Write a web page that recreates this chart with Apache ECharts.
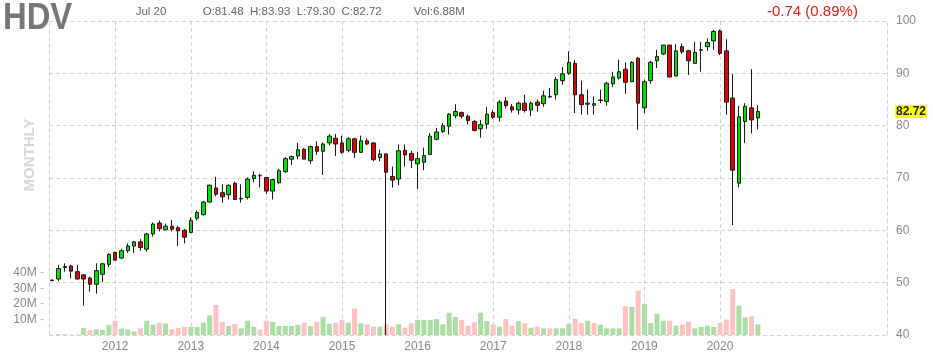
<!DOCTYPE html>
<html><head><meta charset="utf-8">
<script src="https://cdn.jsdelivr.net/npm/echarts@6/dist/echarts.min.js"></script>
<style>html,body{margin:0;padding:0;background:#fff}#c{width:933px;height:354px}</style>
</head><body><div id="c"></div>
<script>
// Monthly categories (Mar 2011 .. Jul 2020)
const months = [
 '2011-03','2011-04','2011-05','2011-06','2011-07','2011-08','2011-09','2011-10','2011-11','2011-12',
 '2012-01','2012-02','2012-03','2012-04','2012-05','2012-06','2012-07','2012-08','2012-09','2012-10','2012-11','2012-12',
 '2013-01','2013-02','2013-03','2013-04','2013-05','2013-06','2013-07','2013-08','2013-09','2013-10','2013-11','2013-12',
 '2014-01','2014-02','2014-03','2014-04','2014-05','2014-06','2014-07','2014-08','2014-09','2014-10','2014-11','2014-12',
 '2015-01','2015-02','2015-03','2015-04','2015-05','2015-06','2015-07','2015-08','2015-09','2015-10','2015-11','2015-12',
 '2016-01','2016-02','2016-03','2016-04','2016-05','2016-06','2016-07','2016-08','2016-09','2016-10','2016-11','2016-12',
 '2017-01','2017-02','2017-03','2017-04','2017-05','2017-06','2017-07','2017-08','2017-09','2017-10','2017-11','2017-12',
 '2018-01','2018-02','2018-03','2018-04','2018-05','2018-06','2018-07','2018-08','2018-09','2018-10','2018-11','2018-12',
 '2019-01','2019-02','2019-03','2019-04','2019-05','2019-06','2019-07','2019-08','2019-09','2019-10','2019-11','2019-12',
 '2020-01','2020-02','2020-03','2020-04','2020-05','2020-06','2020-07'
];
const opens = [
 50.4,50.7,52.9,53.2,52.1,51.5,50.9,49.7,51.6,53.5,
 55.8,54.7,56.1,57.0,57.8,56.4,59.3,61.4,60.1,60.8,60.5,60.0,
 59.6,62.3,63.0,65.4,68.1,67.2,66.8,69.0,66.0,66.3,69.9,70.5,
 70.1,67.5,69.1,71.2,73.6,74.2,75.5,73.3,76.0,75.1,76.7,77.6,
 76.7,75.3,77.5,74.9,77.1,76.7,73.9,74.6,70.3,69.8,75.3,74.7,
 72.7,73.0,74.5,77.4,78.9,79.9,81.9,82.5,81.8,80.8,79.4,80.3,
 82.5,81.6,84.7,83.6,83.0,84.3,83.0,84.5,84.2,85.5,85.9,88.6,
 90.0,91.9,85.9,84.1,83.9,84.8,84.6,88.0,89.1,90.8,88.4,92.9,
 83.4,88.6,92.4,93.7,95.4,89.5,95.1,94.3,91.9,94.4,95.1,96.2,
 98.1,94.3,85.3,69.0,80.8,83.4,81.48
];
const closes = [
 50.5,52.7,53.1,52.2,50.7,50.7,49.7,52.3,53.6,55.4,
 54.3,56.1,57.0,57.8,56.7,59.3,61.2,60.3,60.8,60.2,59.9,58.7,
 61.9,63.4,65.4,68.6,66.9,66.4,68.6,65.9,66.1,69.8,70.5,70.4,
 67.5,69.7,71.4,73.7,74.1,75.4,73.6,76.0,75.1,76.5,78.0,76.5,
 74.9,77.5,74.9,77.1,76.5,73.5,74.6,71.1,69.6,75.2,74.4,73.4,
 73.7,74.3,78.0,78.8,80.0,82.2,82.7,81.8,81.0,79.1,80.2,82.2,
 81.6,84.5,83.8,83.0,84.3,82.9,84.3,83.9,85.7,85.6,88.8,89.9,
 92.1,85.9,84.0,84.3,84.2,84.9,88.1,89.3,90.3,88.3,92.1,84.3,
 88.4,92.1,93.2,95.4,89.3,94.3,94.1,92.4,94.0,94.5,95.9,98.0,
 93.8,84.5,71.5,81.7,83.7,81.1,82.72
];
const lows = [
 50.3,50.3,52.1,50.8,50.6,45.6,48.3,47.9,50.1,53.0,
 54.3,54.5,55.7,55.7,56.1,55.9,58.8,59.8,60.0,59.8,57.0,57.5,
 59.5,61.9,62.8,65.3,66.5,65.3,65.9,65.8,65.3,65.9,69.2,68.2,
 66.9,65.9,68.9,71.0,72.5,73.6,73.6,72.7,74.4,70.6,76.2,74.2,
 74.6,74.9,73.8,74.8,76.3,73.2,73.2,40.0,68.2,68.6,72.2,71.9,
 67.9,71.5,74.4,77.2,78.6,78.3,81.4,81.4,80.2,78.9,77.7,79.4,
 81.3,80.8,83.3,82.5,82.1,82.5,81.8,82.7,83.6,85.3,85.0,87.8,
 89.7,82.4,82.1,82.1,82.1,84.3,83.8,87.4,88.8,86.1,88.3,79.2,
 82.4,88.0,91.0,93.5,89.3,89.4,93.7,89.7,91.9,90.3,94.3,94.5,
 93.5,82.1,61.0,68.2,76.7,78.5,79.30
];
const highs = [
 50.6,53.4,53.7,53.4,53.4,51.6,51.2,53.7,53.8,55.6,
 55.9,56.5,57.5,58.0,58.3,59.5,61.5,61.9,61.3,62.0,60.9,60.3,
 62.5,63.8,65.6,68.8,70.2,68.8,68.8,69.3,68.8,70.1,71.3,70.8,
 70.1,69.9,71.7,74.0,74.3,76.7,75.7,76.2,77.0,76.8,78.4,78.4,
 78.1,77.8,77.6,78.1,77.6,76.8,75.4,74.7,72.2,76.4,76.4,75.2,
 75.0,75.8,78.6,79.6,80.5,82.4,84.1,82.7,82.1,81.1,81.1,83.6,
 83.0,84.9,85.5,84.1,84.6,85.9,84.6,85.0,86.7,87.2,89.3,91.2,
 94.2,92.6,88.6,86.9,85.6,86.9,88.4,90.3,92.6,92.1,92.3,93.1,
 88.8,92.4,94.5,95.4,95.4,95.6,95.7,94.5,96.0,96.0,96.7,98.3,
 98.4,96.5,89.9,83.8,84.3,90.8,83.93
];
// Volume in millions
const volumes = [
 0.2,0.5,0.4,0.3,0.3,4.5,3.2,3.6,3.2,6.6,
 9.2,4.1,3.6,2.3,4.3,9.2,6.6,7.9,7.5,3.6,4.5,5.3,
 5.3,5.1,7.9,12.6,19.4,8.5,5.8,7.0,4.3,9.2,5.3,3.6,
 9.2,8.5,5.8,5.8,5.8,6.6,7.9,5.8,8.5,11.7,7.2,7.9,
 9.8,7.9,17.0,7.5,6.9,5.4,5.4,6.9,5.4,6.9,4.7,7.5,
 9.7,9.7,9.7,10.3,6.9,14.4,11.6,9.7,6.0,8.2,14.4,9.0,
 6.9,5.4,10.3,6.0,9.0,7.5,4.7,5.4,4.3,4.3,4.3,4.3,
 7.3,10.5,7.7,9.2,7.7,6.7,4.3,4.3,4.3,18.5,18.1,28.6,
 20.0,7.7,13.8,9.2,9.2,6.0,6.7,8.6,4.3,5.2,6.0,5.2,
 7.7,9.9,29.7,18.9,11.4,12.0,6.88
];
const priceTicks = [40, 50, 60, 70, 80, 90, 100];
const volTicks = [0, 10, 20, 30, 40];
const lastClose = 82.72;
const header = {sym:'HDV', date:'Jul 20', ohlc:'O:81.48  H:83.93  L:79.30  C:82.72', vol:'Vol:6.88M', chg:'-0.74 (0.89%)', period:'MONTHLY'};

const padCats = Array.from({length: 20}, (_, i) => 'pad' + i);
const cats = months.concat(padCats);
const ohlc = months.map((m, i) => [opens[i], closes[i], lows[i], highs[i]]);
const volData = volumes.map((v, i) => ({
  value: v,
  itemStyle: {color: (i === 0 || closes[i] >= closes[i - 1]) ? '#abdea3' : '#ffc1c1'}
}));

const FONT = 'Arial, "Liberation Sans", sans-serif';
const dash = [4, 3];
const gridColor = '#d3d3d3';

const chart = echarts.init(document.getElementById('c'), null, {renderer: 'canvas'});
chart.setOption({
  animation: false,
  backgroundColor: '#fff',
  textStyle: {fontFamily: FONT},
  grid: [
    {left: 49, right: 46, top: 21, bottom: 19},
    {left: 49, right: 46, top: 273, bottom: 19}
  ],
  xAxis: [
    {type: 'category', gridIndex: 0, data: cats, boundaryGap: true,
     axisLine: {show: false}, axisTick: {show: false},
     axisLabel: {interval: (i, v) => v.endsWith('-01'), formatter: v => v.slice(0, 4),
                 color: '#888', fontSize: 12, margin: 6, fontFamily: FONT},
     splitLine: {show: true, alignWithLabel: true, interval: (i, v) => v.endsWith('-01'),
                 lineStyle: {color: gridColor, type: dash, width: 1}}},
    {type: 'category', gridIndex: 1, data: cats, boundaryGap: true, show: false}
  ],
  yAxis: [
    {type: 'value', gridIndex: 0, position: 'right', min: priceTicks[0], max: priceTicks[priceTicks.length - 1], interval: 10,
     axisLine: {show: true, lineStyle: {color: gridColor, type: dash}},
     axisTick: {show: false},
     axisLabel: {color: '#8a8a8a', fontSize: 12, margin: 9, fontFamily: FONT},
     splitLine: {show: true, lineStyle: {color: gridColor, type: dash}}},
    {type: 'value', gridIndex: 0, position: 'left', min: priceTicks[0], max: priceTicks[priceTicks.length - 1], interval: 10,
     axisLine: {show: true, lineStyle: {color: gridColor, type: dash}},
     axisTick: {show: false}, axisLabel: {show: false}, splitLine: {show: false}},
    {type: 'value', gridIndex: 1, position: 'left', min: volTicks[0], max: volTicks[volTicks.length - 1], interval: 10,
     axisLine: {show: false},
     axisTick: {show: false},
     axisLabel: {formatter: v => v === 0 ? '' : '{t|' + v + 'M} {d|-}', margin: 5,
                 rich: {t: {color: '#8a8a8a', fontSize: 12, fontFamily: FONT},
                        d: {color: '#bdbdbd', fontSize: 12, fontFamily: FONT}}},
     splitLine: {show: false}}
  ],
  series: [
    {type: 'bar', xAxisIndex: 1, yAxisIndex: 2, data: volData, barWidth: 5, z: 2, silent: true},
    {type: 'candlestick', xAxisIndex: 0, yAxisIndex: 0, data: ohlc, barWidth: 4, z: 5, silent: true,
     itemStyle: {color: '#00e000', color0: '#e60000', borderColor: '#1a1a1a', borderColor0: '#1a1a1a', borderWidth: 1},
     markLine: {silent: true, symbol: ['none', 'none'], animation: false,
       lineStyle: {color: 'rgba(0,0,0,0)', width: 1, type: 'solid'},
       data: [{yAxis: lastClose}],
       label: {show: true, position: 'end', distance: 8, formatter: lastClose.toFixed(2),
               backgroundColor: '#ffff00', color: '#222', fontWeight: 'bold', fontSize: 12,
               padding: [1, 1, 0, 1], fontFamily: FONT}}}
  ],
  graphic: [
    {type: 'text', x: 3, y: 19, scaleX: 0.91, z: 100,
     style: {text: header.sym, font: 'bold 36px ' + FONT, fill: '#777', verticalAlign: 'middle', textVerticalAlign: 'middle'}},
    {type: 'text', x: 135.7, y: 11.5, z: 100, style: {text: header.date, font: '11.5px ' + FONT, fill: '#666', verticalAlign: 'middle', textVerticalAlign: 'middle'}},
    {type: 'text', x: 202.7, y: 11.5, z: 100, style: {text: header.ohlc, font: '11.5px ' + FONT, fill: '#666', verticalAlign: 'middle', textVerticalAlign: 'middle'}},
    {type: 'text', x: 413.7, y: 11.5, z: 100, style: {text: header.vol, font: '11.5px ' + FONT, fill: '#666', verticalAlign: 'middle', textVerticalAlign: 'middle'}},
    {type: 'text', x: 767, y: 12, z: 100, style: {text: header.chg, font: '15px ' + FONT, fill: '#e31c1c', verticalAlign: 'middle', textVerticalAlign: 'middle'}},
    {type: 'text', x: 30, y: 155, rotation: Math.PI / 2, z: 100,
     style: {text: header.period, font: 'bold 15px ' + FONT, fill: '#d6d6d6', align: 'center', textAlign: 'center', verticalAlign: 'middle', textVerticalAlign: 'middle'}}
  ]
});
</script>
</body></html>
